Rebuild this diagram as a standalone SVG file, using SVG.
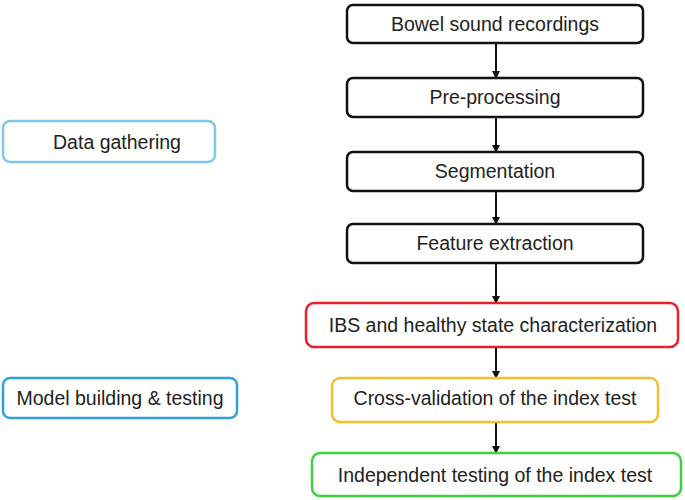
<svg xmlns="http://www.w3.org/2000/svg" width="685" height="500" viewBox="0 0 685 500">
<style>
rect{fill:#fff;stroke-width:2.5}
text{font-family:"Liberation Sans",Arial,sans-serif;font-size:19.5px;fill:#222;text-anchor:middle;dominant-baseline:central}
line{stroke:#111;stroke-width:2;marker-end:url(#a)}
</style>
<defs><marker id="a" markerWidth="8" markerHeight="8" refX="7" refY="4" orient="auto" markerUnits="userSpaceOnUse"><path d="M0,0L8,4L0,8z" fill="#111"/></marker></defs>
<rect width="685" height="500" style="fill:#fff;stroke:none"/>
<g id="connectors">
<line x1="496" y1="43" x2="496" y2="78"/>
<line x1="496" y1="117" x2="496" y2="152"/>
<line x1="496" y1="191" x2="496" y2="224"/>
<line x1="496" y1="263" x2="496" y2="303"/>
<line x1="496" y1="347" x2="496" y2="378"/>
<line x1="496" y1="422" x2="496" y2="453"/>
</g>
<g id="n1"><rect x="347" y="5" width="296" height="38" rx="6" stroke="#111"/><text x="495" y="24">Bowel sound recordings</text></g>
<g id="n2"><rect x="347" y="78" width="296" height="39" rx="6" stroke="#111"/><text x="495" y="97">Pre-processing</text></g>
<g id="n3"><rect x="347" y="152" width="296" height="39" rx="6" stroke="#111"/><text x="495" y="171">Segmentation</text></g>
<g id="n4"><rect x="347" y="224" width="296" height="39" rx="6" stroke="#111"/><text x="495" y="243">Feature extraction</text></g>
<g id="n5"><rect x="306" y="303" width="372" height="44" rx="8" stroke="#e8202a"/><text x="493" y="325">IBS and healthy state characterization</text></g>
<g id="n6"><rect x="332" y="378" width="326" height="44" rx="8" stroke="#f0c030"/><text x="495" y="398">Cross-validation of the index test</text></g>
<g id="n7"><rect x="312" y="453" width="369" height="43" rx="8" stroke="#3ed03e"/><text x="495" y="475">Independent testing of the index test</text></g>
<g id="d1"><rect x="3" y="121" width="212" height="41" rx="7" stroke="#7fc8e8"/><text x="117" y="142">Data gathering</text></g>
<g id="d2"><rect x="3" y="378" width="234" height="40" rx="7" stroke="#30a0d8"/><text x="120" y="398">Model building &amp; testing</text></g>
</svg>
